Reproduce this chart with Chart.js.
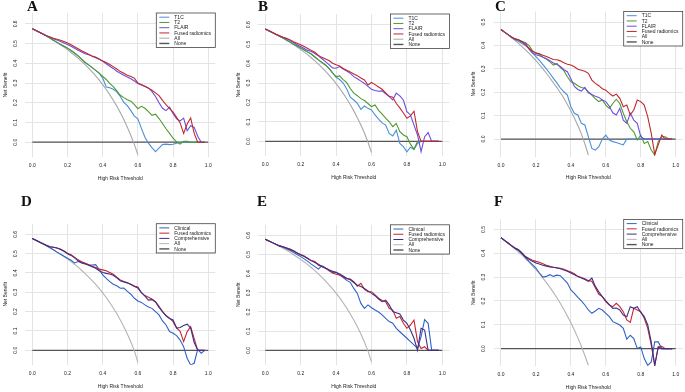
<!DOCTYPE html>
<html>
<head>
<title>Decision curves</title>
<meta charset="UTF-8">
<script src="https://cdn.jsdelivr.net/npm/chart.js@4.4.1/dist/chart.umd.min.js"></script>
<style>
 body{margin:0;background:#fff;}
 #wrap{position:relative;width:685px;height:392px;overflow:hidden;background:#fff;}
 #wrap canvas{position:absolute;}
 .tag{position:absolute;font:bold 15px "Liberation Serif","Times New Roman",serif;line-height:15px;color:#111;}
</style>
</head>
<body>
<div id="wrap">
  <canvas id="cA" width="228" height="196" style="left:0px;top:0px"></canvas>
  <canvas id="cB" width="228" height="196" style="left:228px;top:0px"></canvas>
  <canvas id="cC" width="228" height="196" style="left:457px;top:0px"></canvas>
  <canvas id="cD" width="228" height="196" style="left:0px;top:196px"></canvas>
  <canvas id="cE" width="228" height="196" style="left:228px;top:196px"></canvas>
  <canvas id="cF" width="228" height="196" style="left:457px;top:196px"></canvas>
  <div class="tag" style="left:27px;top:-1px">A</div>
  <div class="tag" style="left:258px;top:-1px">B</div>
  <div class="tag" style="left:495px;top:-1px">C</div>
  <div class="tag" style="left:21px;top:194px">D</div>
  <div class="tag" style="left:257px;top:194px">E</div>
  <div class="tag" style="left:494px;top:194px">F</div>
</div>
<script>

//////////////////// data ////////////////////
// threshold grid (0 .. 0.98 step 0.02)
var thr = [0,0.02,0.04,0.06,0.08,0.1,0.12,0.14,0.16,0.18,
  0.2,0.22,0.24,0.26,0.28,0.3,0.32,0.34,0.36,0.38,
  0.4,0.42,0.44,0.46,0.48,0.5,0.52,0.54,0.56,0.58,
  0.6,0.62,0.64,0.66,0.68,0.7,0.72,0.74,0.76,0.78,
  0.8,0.82,0.84,0.86,0.88,0.9,0.92,0.94,0.96,0.98];

var xTicks = [0,0.2,0.4,0.6,0.8,1.0];
var xTickLabels = ["0.0","0.2","0.4","0.6","0.8","1.0"];
var yTicks6 = [0,0.1,0.2,0.3,0.4,0.5,0.6];
var yTicks5 = [0,0.1,0.2,0.3,0.4,0.5];
var noneX = [0,1];
var noneY = [0,0];

var topNames = ["T1C","T2","FLAIR","Fused radiomics","All","None"];
var botNames = ["Clinical","Fused radiomics","Comprehensive","All","None"];

// panel A
var a_t1c = [.575,.566,.557,.548,.538,.528,.517,.506,.495,.486,
  .477,.465,.452,.438,.421,.404,.392,.378,.364,.350,
  .325,.280,.276,.268,.255,.232,.202,.185,.160,.132,
  .118,.070,.025,-.005,-.027,-.048,-.030,-.012,-.010,-.012,
  -.010,-.005,0,0,0,0,0,0,0,0];
var a_t2 = [.575,.566,.557,.548,.538,.528,.517,.506,.495,.486,
  .477,.465,.452,.438,.421,.404,.392,.378,.364,.350,
  .334,.318,.298,.282,.260,.238,.226,.215,.208,.190,
  .170,.182,.172,.155,.136,.142,.120,.095,.068,.045,
  .020,.002,-.010,.004,.004,0,0,0,0,0];
var a_flair = [.575,.566,.557,.548,.540,.533,.525,.518,.511,.503,
  .495,.486,.476,.466,.457,.448,.443,.437,.432,.422,
  .410,.398,.385,.374,.360,.349,.340,.331,.322,.310,
  .297,.292,.284,.275,.256,.232,.200,.172,.160,.178,
  .144,.118,.108,.122,.058,.084,.075,.030,0,0];
var a_fused = [.575,.566,.557,.548,.540,.533,.527,.522,.517,.510,
  .503,.494,.484,.474,.464,.455,.446,.436,.428,.420,
  .412,.404,.394,.383,.371,.358,.350,.340,.333,.325,
  .300,.290,.282,.274,.263,.250,.236,.212,.190,.170,
  .152,.126,.098,.045,.092,.123,.045,0,0,0];
var a_all = [.575,.566,.557,.548,.538,.528,.517,.506,.494,.482,
  .469,.455,.441,.426,.410,.393,.375,.356,.336,.315,
  .292,.267,.241,.213,.183,.150,.115,.076,.034,-.012,
  -.063];

// panel B
var b_t1c = [.578,.569,.560,.551,.541,.531,.521,.511,.500,.490,
  .480,.470,.459,.449,.434,.419,.406,.393,.375,.352,
  .330,.318,.300,.270,.228,.213,.196,.165,.182,.170,
  .162,.136,.115,.095,.084,.041,.028,.058,-.010,-.027,
  -.053,-.030,-.041,-.010,0,0,0,0,0,0];
var b_t2 = [.578,.569,.560,.551,.541,.531,.521,.511,.500,.490,
  .480,.470,.459,.449,.434,.419,.406,.393,.375,.352,
  .333,.337,.318,.302,.272,.248,.235,.220,.210,.195,
  .179,.187,.160,.140,.120,.101,.076,.093,.050,.033,
  .024,-.014,-.040,0,0,0,0,0,0,0];
var b_flair = [.578,.569,.560,.551,.543,.536,.528,.520,.508,.497,
  .488,.478,.468,.462,.452,.440,.425,.410,.395,.378,
  .376,.385,.372,.362,.350,.333,.322,.310,.298,.283,
  .268,.262,.258,.260,.245,.230,.213,.248,.234,.213,
  .153,.136,.084,.033,-.053,.024,.045,0,0,0];
var b_fused = [.578,.569,.560,.551,.543,.536,.530,.522,.512,.505,
  .497,.488,.478,.468,.458,.442,.432,.424,.416,.402,
  .394,.388,.375,.366,.357,.347,.338,.326,.316,.290,
  .303,.292,.280,.268,.250,.232,.227,.195,.172,.146,
  .119,.131,.155,.050,0,0,0,0,0,0];
var b_all = [.578,.569,.560,.551,.541,.531,.520,.509,.498,.485,
  .472,.459,.445,.430,.414,.397,.379,.361,.341,.320,
  .297,.273,.247,.219,.190,.157,.122,.084,.043,-.003,
  -.058];

// panel C
var c_t1c = [.468,.457,.446,.434,.424,.418,.408,.400,.385,.368,
  .352,.336,.318,.300,.280,.259,.240,.218,.202,.188,
  .138,.110,.103,.067,.060,.010,-.040,-.047,-.033,0,
  .017,-.004,-.011,-.015,-.020,-.025,0,0,0,0,
  0,0,0,0,0,0,0,0,0,0];
var c_t2 = [.468,.457,.446,.436,.428,.424,.418,.412,.400,.378,
  .366,.362,.350,.342,.330,.316,.323,.305,.292,.266,
  .245,.238,.228,.220,.217,.202,.188,.172,.160,.167,
  .145,.131,.152,.170,.152,.110,.074,.046,.031,-.004,
  .017,-.019,-.011,-.047,-.068,-.010,.010,.010,0,0];
var c_flair = [.468,.457,.446,.436,.428,.422,.414,.410,.385,.368,
  .360,.356,.350,.343,.335,.325,.318,.310,.296,.288,
  .258,.225,.212,.205,.221,.198,.190,.183,.178,.167,
  .160,.140,.112,.103,.131,.081,.067,.110,.081,.067,
  .010,0,0,0,0,0,0,0,0,0];
var c_fused = [.468,.457,.446,.436,.428,.424,.416,.402,.388,.374,
  .369,.364,.358,.353,.346,.340,.339,.334,.326,.320,
  .316,.309,.298,.294,.290,.281,.252,.238,.228,.215,
  .209,.195,.184,.192,.174,.138,.145,.103,.124,.167,
  .160,.145,.095,.024,-.065,-.025,.017,0,0,0];
var c_all = [.468,.457,.446,.434,.422,.409,.395,.381,.367,.351,
  .335,.318,.300,.281,.261,.240,.220,.198,.174,.148,
  .120,.090,.058,.022,-.020,-.068];

// panel D
var d_clin = [.578,.569,.560,.551,.541,.531,.520,.508,.497,.487,
  .476,.466,.452,.459,.455,.450,.443,.441,.443,.418,
  .390,.372,.355,.342,.334,.321,.322,.305,.290,.269,
  .255,.248,.235,.224,.217,.200,.183,.152,.131,.097,
  .088,.076,.053,.019,-.041,-.076,-.067,.005,-.015,0];
var d_fused = [.578,.569,.560,.551,.543,.536,.533,.529,.524,.514,
  .502,.494,.482,.468,.458,.450,.442,.435,.428,.420,
  .416,.412,.403,.394,.378,.364,.356,.350,.342,.333,
  .328,.298,.283,.275,.266,.252,.228,.200,.180,.166,
  .148,.116,.098,.045,.097,.122,.060,0,0,0];
var d_comp = [.578,.569,.560,.551,.543,.536,.533,.529,.522,.512,
  .500,.491,.478,.463,.452,.446,.440,.432,.424,.412,
  .403,.398,.395,.388,.375,.360,.354,.349,.340,.330,
  .322,.298,.280,.260,.262,.250,.222,.200,.178,.165,
  .157,.115,.118,.128,.135,.115,.040,0,0,0];
var d_all = [.578,.569,.560,.551,.541,.531,.520,.509,.498,.485,
  .472,.459,.445,.430,.414,.397,.379,.361,.341,.320,
  .297,.273,.247,.219,.190,.157,.122,.084,.043,-.003,
  -.062];

// panel E
var e_clin = [.580,.571,.562,.553,.545,.538,.530,.521,.510,.500,
  .489,.477,.464,.450,.437,.424,.442,.430,.415,.405,
  .407,.393,.380,.365,.355,.323,.297,.245,.219,.237,
  .222,.210,.200,.185,.167,.150,.141,.115,.097,.080,
  .063,.045,.028,.010,.071,.160,.141,0,0,0];
var e_fused = [.580,.571,.562,.553,.545,.540,.534,.528,.520,.508,
  .500,.492,.478,.468,.463,.444,.436,.428,.418,.403,
  .397,.393,.384,.374,.372,.358,.335,.350,.318,.306,
  .306,.289,.272,.260,.254,.219,.210,.167,.176,.141,
  .115,.132,.158,.045,.010,.019,0,0,0,0];
var e_comp = [.580,.571,.562,.553,.545,.540,.534,.526,.518,.508,
  .498,.490,.480,.468,.458,.449,.438,.430,.420,.412,
  .407,.398,.388,.376,.368,.354,.340,.333,.323,.310,
  .297,.285,.268,.254,.262,.237,.202,.196,.190,.158,
  .141,.106,.063,0,.115,.106,0,0,0,0];
var e_all = [.580,.571,.562,.553,.543,.533,.522,.511,.499,.487,
  .474,.461,.447,.432,.416,.399,.381,.362,.342,.321,
  .298,.274,.248,.220,.190,.158,.123,.085,.043,-.003,
  -.060];

// panel F
var f_clin = [.465,.454,.443,.431,.420,.411,.398,.382,.366,.352,
  .338,.317,.300,.303,.310,.303,.308,.306,.290,.275,
  .246,.232,.215,.200,.183,.162,.148,.158,.169,.162,
  .148,.134,.113,.106,.099,.085,.040,.056,.042,0,
  .007,-.042,-.070,-.056,.028,.028,0,0,0,0];
var f_fused = [.465,.454,.443,.432,.422,.415,.402,.386,.378,.371,
  .366,.362,.356,.350,.345,.341,.339,.337,.333,.327,
  .321,.314,.303,.298,.293,.285,.283,.255,.228,.218,
  .197,.183,.176,.190,.176,.155,.120,.110,.169,.162,
  .155,.127,.085,.014,-.070,.007,.010,0,0,0];
var f_comp = [.465,.454,.443,.432,.422,.415,.400,.385,.375,.366,
  .359,.355,.350,.346,.342,.341,.338,.335,.330,.324,
  .317,.310,.302,.296,.290,.282,.296,.261,.238,.218,
  .200,.184,.169,.170,.162,.141,.134,.176,.169,.176,
  .152,.134,.099,.028,-.070,.007,0,0,0,0];
var f_all = [.465,.454,.443,.431,.418,.405,.392,.378,.363,.347,
  .331,.314,.296,.277,.257,.236,.213,.189,.164,.137,
  .108,.078,.045,.010,-.029,-.070];

//////////////////// colours ////////////////////
var topCols = ["#4a8fd6","#4f9a2c","#6a4fe0","#c0282e","#a8a8a8","#555555"];
var botCols = ["#2f62c8","#c4262e","#3e2f86","#b4b4b4","#555555"];

//////////////////// R style axes + legend ////////////////////
var rAxes = {
  id: 'rAxes',
  afterDraw: function(chart, args, opts){
    var ctx = chart.ctx, a = chart.chartArea;
    var xs = chart.scales.x, ys = chart.scales.y;
    ctx.save();
    ctx.fillStyle = '#222';
    ctx.font = '5px "Liberation Sans", Arial, sans-serif';
    ctx.textAlign = 'center';
    ctx.textBaseline = 'middle';
    xTicks.forEach(function(v, i){
      ctx.fillText(xTickLabels[i], xs.getPixelForValue(v), a.bottom + 9);
    });
    opts.yTicks.forEach(function(v){
      ctx.save();
      ctx.translate(a.left - 10, ys.getPixelForValue(v));
      ctx.rotate(-Math.PI/2);
      ctx.fillText(v.toFixed(1), 0, 0);
      ctx.restore();
    });
    ctx.fillText('High Risk Threshold', (a.left + a.right)/2, a.bottom + 21.5);
    ctx.save();
    ctx.translate(a.left - 20, (a.top + a.bottom)/2);
    ctx.rotate(-Math.PI/2);
    ctx.fillText('Net Benefit', 0, 0);
    ctx.restore();

    // legend box, top right of plot region
    var n = opts.names.length;
    var bw = 59, rowH = 5.25, bh = n*rowH + 3;
    var bx = a.right - bw, by = a.top;
    ctx.fillStyle = '#fff';
    ctx.fillRect(bx, by, bw, bh);
    ctx.strokeStyle = '#444';
    ctx.lineWidth = 0.8;
    ctx.strokeRect(bx, by, bw, bh);
    ctx.textAlign = 'left';
    for (var i = 0; i < n; i++){
      var ry = by + 4.2 + i*rowH;
      ctx.strokeStyle = opts.cols[i];
      ctx.lineWidth = (i == n-1) ? 1.4 : 1;
      ctx.beginPath(); ctx.moveTo(bx + 3, ry); ctx.lineTo(bx + 13, ry); ctx.stroke();
      ctx.fillStyle = '#222';
      ctx.fillText(opts.names[i], bx + 18, ry + 0.3);
    }
    ctx.restore();
  }
};

function pts(vals){
  return vals.map(function(v, i){ return {x: thr[i], y: v}; });
}

function makePanel(id, pad, ymin, ymax, yTicks, names, cols, series){
  var ds = [];
  // first in the list is drawn on top
  series.forEach(function(s){
    ds.push({data: pts(s.vals), borderColor: cols[s.c], borderWidth: 1.1,
             pointRadius: 0, tension: 0, fill: false});
  });
  ds.push({data: noneX.map(function(x, i){ return {x: x, y: noneY[i]}; }),
           borderColor: cols[cols.length-1], borderWidth: 1.3, pointRadius: 0, fill: false});

  new Chart(document.getElementById(id), {
    type: 'line',
    data: {datasets: ds},
    options: {
      responsive: false,
      animation: false,
      events: [],
      layout: {padding: pad},
      plugins: {
        legend: {display: false},
        tooltip: {enabled: false},
        rAxes: {yTicks: yTicks, names: names, cols: cols}
      },
      scales: {
        x: {type: 'linear', min: -0.04, max: 1.04,
            afterBuildTicks: function(ax){ ax.ticks = xTicks.map(function(v){ return {value: v}; }); },
            ticks: {display: false},
            grid: {color: '#e4e4e4', lineWidth: 1, drawTicks: false},
            border: {display: false}},
        y: {type: 'linear', min: ymin, max: ymax,
            afterBuildTicks: function(ax){ ax.ticks = yTicks.map(function(v){ return {value: v}; }); },
            ticks: {display: false},
            grid: {color: '#e4e4e4', lineWidth: 1, drawTicks: false},
            border: {display: false}}
      }
    },
    plugins: [rAxes]
  });
}

// top row: cols index 0 T1C, 1 T2, 2 FLAIR, 3 Fused, 4 All, 5 None
makePanel('cA', {left:25.3, right:12.7, top:13, bottom:39}, -0.075, 0.655, yTicks6, topNames, topCols,
  [{vals:a_fused,c:3},{vals:a_flair,c:2},{vals:a_t2,c:1},{vals:a_t1c,c:0},{vals:a_all,c:4}]);
makePanel('cB', {left:30.2, right:6.6, top:14, bottom:40}, -0.075, 0.655, yTicks6, topNames, topCols,
  [{vals:b_fused,c:3},{vals:b_flair,c:2},{vals:b_t2,c:1},{vals:b_t1c,c:0},{vals:b_all,c:4}]);
makePanel('cC', {left:37, right:2.3, top:11.5, bottom:39.4}, -0.075, 0.545, yTicks5, topNames, topCols,
  [{vals:c_fused,c:3},{vals:c_flair,c:2},{vals:c_t2,c:1},{vals:c_t1c,c:0},{vals:c_all,c:4}]);

// bottom row: 0 Clinical, 1 Fused, 2 Comprehensive, 3 All, 4 None
makePanel('cD', {left:25.3, right:12.7, top:27.7, bottom:27.2}, -0.075, 0.655, yTicks6, botNames, botCols,
  [{vals:d_comp,c:2},{vals:d_fused,c:1},{vals:d_clin,c:0},{vals:d_all,c:3}]);
makePanel('cE', {left:30.2, right:6.6, top:28.8, bottom:27.3}, -0.075, 0.655, yTicks6, botNames, botCols,
  [{vals:e_comp,c:2},{vals:e_fused,c:1},{vals:e_clin,c:0},{vals:e_all,c:3}]);
makePanel('cF', {left:37, right:2.3, top:23.4, bottom:26}, -0.073, 0.542, yTicks5, botNames, botCols,
  [{vals:f_comp,c:2},{vals:f_fused,c:1},{vals:f_clin,c:0},{vals:f_all,c:3}]);

</script>
</body>
</html>
